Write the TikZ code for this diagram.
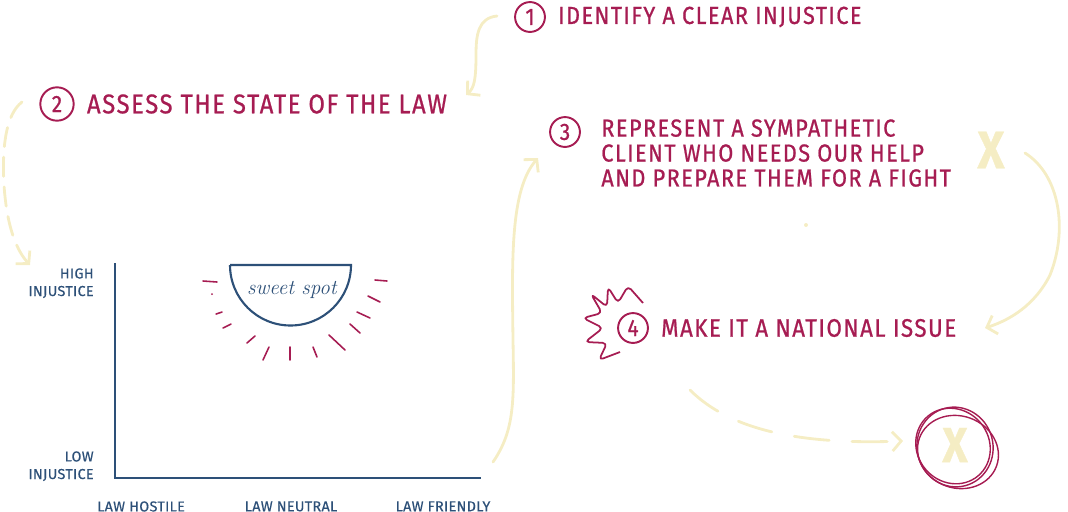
\documentclass[tikz,border=0pt]{standalone}
\usepackage{fontspec}
\usepackage{xcolor}
\usetikzlibrary{positioning,arrows.meta}
\newfontfamily\stepfont[LetterSpace=6,FakeStretch=0.88,FakeBold=0.8]{Fira Sans}
\newfontfamily\axisfont[LetterSpace=2,FakeBold=0.4]{Fira Sans}
\definecolor{berry}{HTML}{A61C52}
\definecolor{navy}{HTML}{2D5078}
\definecolor{straw}{HTML}{F5EDC4}

\begin{document}
\begin{tikzpicture}[x=0.02cm,y=-0.02cm]
	\tikzset{
		num/.style={circle,draw=berry,line width=1.1pt,text=berry,minimum size=17pt,inner sep=0pt,font=\stepfont\fontsize{13.5}{13.5}\selectfont},
		steptext/.style={text=berry,inner sep=0pt,align=left,font=\stepfont\fontsize{14}{14.2}\selectfont},
		axislabel/.style={text=navy,inner sep=0pt,font=\axisfont\fontsize{8.2}{10}\selectfont},
		flow/.style={draw=straw,line width=1.6pt,line cap=round,-{Straight Barb[length=5pt,width=11pt]}},
		bigx/.style={text=straw,inner sep=0pt,font=\stepfont\bfseries\fontsize{30}{30}\selectfont},
		ray/.style={draw=berry,line width=0.9pt,line cap=round},
	}
	\useasboundingbox (0,0) rectangle (1068,511);
	
	%Steps
	\node[num] (n1) at (530,17) {1};
	\node[steptext, right=12 of n1] (s1) {IDENTIFY A CLEAR INJUSTICE};
	\node[num, minimum size=19pt] (n2) at (57,104) {2};
	\node[steptext, right=12 of n2, font=\stepfont\fontsize{15.4}{15.4}\selectfont] (s2) {ASSESS THE STATE OF THE LAW};
	\node[num] (n3) at (565,132) {3};
	\node[steptext, anchor=north west] (s3) at (601,119) {REPRESENT A SYMPATHETIC\\CLIENT WHO NEEDS OUR HELP\\AND PREPARE THEM FOR A FIGHT};
	\node[num] (n4) at (633,328) {4};
	\node[steptext, right=12 of n4, font=\stepfont\fontsize{14.4}{14.4}\selectfont] (s4) {MAKE IT A NATIONAL ISSUE};
	
	%Marks
	\node[bigx] (x1) at (991,150) {X};
	\node[bigx, font=\stepfont\bfseries\fontsize{28}{28}\selectfont] (x2) at (955,445) {X};
	\fill[straw] (806,225) circle (2);
	
	%Chart
	\coordinate (origin) at (115,478);
	\draw[navy, line width=1.4pt] (115,263) -- (origin) -- (481,478);
	\node[axislabel, anchor=north east, align=right] (high) at (94,268) {HIGH\\INJUSTICE};
	\node[axislabel, anchor=north east, align=right] (low) at (94,451) {LOW\\INJUSTICE};
	\node[axislabel, anchor=north] (hostile) at (141,501) {LAW HOSTILE};
	\node[axislabel, anchor=north] (neutral) at (291,501) {LAW NEUTRAL};
	\node[axislabel, anchor=north] (friendly) at (443,501) {LAW FRIENDLY};
	
	%Sweet spot
	\draw[navy, line width=1.2pt] (230,265) -- (351,265) arc[start angle=0, end angle=180, radius=60.5] -- cycle;
	\node[text=navy, font=\itshape\fontsize{12}{12}\selectfont] (sweet) at (292,290) {sweet spot};
	\foreach \xa/\ya/\xb/\yb in {203/281/217/282, 222/312/216/314, 231/324/223/328, 255/336/247/343,
		269/347/263/360, 290/347/290/360, 313/347/317/357, 329/335/345/350,
		350/324/360/333, 357/312/370/318, 368/296/380/302, 375/280/387/281}
		\draw[ray] (\xa,\ya) -- (\xb,\yb);
	\fill[berry] (212,294) circle (1);
	
	%Burst
	\draw[berry, line width=1pt, line join=round, rounded corners=2.5pt]
		(643,303) -- (628,286) -- (618,303) -- (608,287) -- (607,307) -- (591,294) -- (602,313)
		-- (583,318) -- (603,328) -- (585,342) -- (607,343) -- (599,360) -- (620,352);
	
	%Circled x
	\draw[berry, line width=0.8pt, rotate around={15:(955,447)}] (955,447) ellipse [x radius=38, y radius=40];
	\draw[berry, line width=0.8pt, rotate around={-20:(958,452)}] (958,452) ellipse [x radius=41, y radius=36];
	\draw[berry, line width=0.8pt, rotate around={40:(953,446)}] (953,446) ellipse [x radius=36, y radius=39];
	
	%Arrows
	\draw[flow] (497,16) .. controls (478,18) and (476,35) .. (476,55) .. controls (476,80) and (474,88) .. (466,95);
	\draw[flow, dash pattern=on 11pt off 6pt] (22,102) .. controls (5,115) and (2,150) .. (4,185) .. controls (7,230) and (18,252) .. (30,265);
	\draw[flow] (493,462) .. controls (515,430) and (514,400) .. (513,340) .. controls (512,260) and (510,190) .. (538,158);
	\draw[flow] (1025,153) .. controls (1060,175) and (1068,230) .. (1050,275) .. controls (1035,305) and (1010,320) .. (985,328);
	\draw[flow, dash pattern=on 20pt off 13pt] (690,390) .. controls (730,430) and (800,445) .. (903,441);
\end{tikzpicture}
\end{document}
